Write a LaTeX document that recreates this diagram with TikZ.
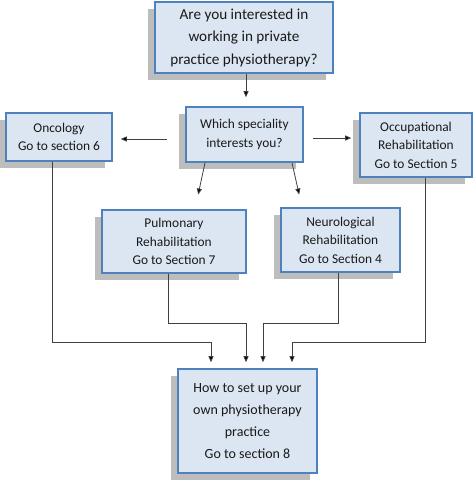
\documentclass[tikz,border=0pt]{standalone}
\usepackage{fontspec}
\setmainfont{Carlito}
\usetikzlibrary{shadows,arrows.meta,calc}
\definecolor{boxfill}{HTML}{DCE6F2}
\definecolor{boxline}{HTML}{4F81BD}
\definecolor{shadowgray}{HTML}{BDBDBD}
\definecolor{linegray}{HTML}{404040}
\tikzset{
  flowbox/.style={draw=boxline, line width=1.6pt, fill=boxfill, align=center,
    inner sep=0pt, text=black!90,
    general shadow={fill=shadowgray, shadow xshift=-7pt, shadow yshift=-7pt}},
  smalltext/.style={font=\fontsize{13.4}{18.5}\selectfont},
  bigtext/.style={font=\fontsize{15.2}{22.5}\selectfont},
  midtext/.style={font=\fontsize{14}{22}\selectfont},
  conn/.style={draw=linegray, line width=0.8pt, -{Triangle[length=6pt,width=5pt,fill=black]}},
}
\begin{document}
\begin{tikzpicture}[x=1pt,y=-1pt]
\useasboundingbox (0,0) rectangle (474,481);
\node[flowbox,bigtext,minimum width=178pt,minimum height=71pt] (top) at (244,37.5)
  {Are you interested in\\working in private\\practice physiotherapy?};
\node[flowbox,smalltext,minimum width=117pt,minimum height=55pt] (spec) at (244.5,134.5)
  {Which speciality\\interests you?};
\node[flowbox,smalltext,minimum width=106pt,minimum height=48pt] (onc) at (59,137)
  {Oncology\\Go to section 6};
\node[flowbox,smalltext,minimum width=112pt,minimum height=64pt] (occ) at (416,145)
  {Occupational\\Rehabilitation\\Go to Section 5};
\node[flowbox,smalltext,minimum width=144pt,minimum height=63pt] (pul) at (174,241.5)
  {Pulmonary\\Rehabilitation\\Go to Section 7};
\node[flowbox,smalltext,minimum width=119pt,minimum height=64pt] (neu) at (340.5,240)
  {Neurological\\Rehabilitation\\Go to Section 4};
\node[flowbox,midtext,minimum width=139pt,minimum height=104pt] (fin) at (247.5,421)
  {How to set up your\\own physiotherapy\\practice\\Go to section 8};

\draw[conn, shorten >=9pt] ([xshift=2pt]top.south) -- ([xshift=1.5pt]spec.north);
\draw[conn, shorten <=18pt, shorten >=8pt] ([yshift=-4.5pt]spec.west) -- ([yshift=-4.5pt]spec.west -| onc.east);
\draw[conn, shorten <=9pt, shorten >=8pt] ([yshift=-3.5pt]spec.east) -- ([yshift=-3.5pt]spec.east -| occ.west);
\draw[conn, shorten >=15pt] ([xshift=-39.5pt]spec.south) -- ([xshift=21pt]pul.north);
\draw[conn, shorten >=13pt] ([xshift=47.5pt]spec.south) -- ([xshift=-38.5pt]neu.north);

\draw[conn, shorten >=6pt] ([xshift=-7pt]onc.south) -- ++(0,181) -| ([xshift=-36.5pt]fin.north);
\draw[conn, shorten >=6pt] ([xshift=-6pt]pul.south) -- ++(0,50) -| ([xshift=-1.5pt]fin.north);
\draw[conn, shorten >=6pt] ([xshift=-2.5pt]neu.south) -- ++(0,51) -| ([xshift=15.5pt]fin.north);
\draw[conn, shorten >=6pt] ([xshift=9pt]occ.south) -- ++(0,165) -| ([xshift=44.5pt]fin.north);
\end{tikzpicture}
\end{document}
